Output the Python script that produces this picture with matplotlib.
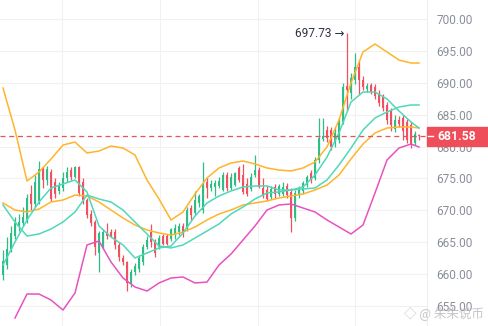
import matplotlib
matplotlib.use("Agg")
import matplotlib.pyplot as plt
from matplotlib.patches import Rectangle
import numpy as np

# ---- candle data (OHLC) ----
opens = [659.8, 661.5, 664.0, 666.0, 667.5, 668.0, 668.5, 672.5, 671.0, 671.5,
         676.6, 674.8, 676.0, 674.5, 673.0, 673.5, 675.0, 676.3, 675.2, 676.8,
         674.5, 671.6, 669.5, 668.2, 663.3, 664.3, 666.6, 666.6, 666.6, 664.6,
         662.5, 661.9, 658.6, 660.3, 660.8, 661.9, 664.3, 666.6, 665.1, 664.3,
         665.9, 665.9, 665.5, 666.1, 666.6, 667.6, 667.2, 670.3, 669.6, 671.1,
         670.0, 674.5, 673.5, 673.6, 673.8, 673.2, 675.5, 673.5, 674.0, 676.6,
         675.5, 674.1, 673.3, 675.5, 676.3, 673.5, 673.2, 672.1, 673.6, 672.6,
         672.6, 673.8, 672.9, 668.8, 672.5, 673.0, 674.0, 675.8, 675.0, 677.9,
         681.2, 682.6, 682.6, 680.5, 681.0, 683.9, 689.5, 688.4, 690.4, 692.5,
         690.4, 689.0, 689.6, 689.3, 688.3, 687.7, 686.5, 685.7, 682.8, 684.2,
         684.5, 683.8, 683.4, 680.6, 681.8]
highs = [663.8, 665.8, 667.5, 669.0, 669.5, 670.5, 672.5, 674.0, 675.5, 677.7,
         676.8, 676.9, 676.5, 675.0, 674.5, 676.0, 676.8, 676.8, 677.0, 677.0,
         675.0, 672.0, 670.0, 668.5, 666.8, 667.0, 668.0, 667.0, 667.0, 665.0,
         663.0, 662.0, 660.8, 661.8, 663.0, 664.8, 666.0, 667.8, 665.5, 666.2,
         666.3, 666.3, 667.3, 667.8, 668.0, 668.0, 670.5, 670.8, 673.0, 672.6,
         677.6, 675.0, 674.8, 674.8, 675.2, 676.0, 676.0, 675.8, 676.0, 677.0,
         677.2, 675.0, 675.8, 678.7, 676.8, 675.0, 673.8, 673.8, 674.2, 674.2,
         674.5, 674.3, 673.5, 673.2, 673.8, 674.6, 675.6, 676.3, 678.3, 684.5,
         684.5, 683.2, 683.0, 683.0, 684.5, 690.0, 697.73, 691.5, 694.7, 693.6,
         691.0, 690.0, 690.0, 689.8, 688.8, 688.2, 687.0, 686.0, 685.0, 684.8,
         685.0, 684.3, 683.8, 682.5, 682.0]
lows = [659.0, 660.8, 663.5, 665.5, 666.8, 667.5, 668.0, 670.0, 670.5, 671.0,
        673.5, 674.0, 671.5, 672.0, 672.5, 673.0, 674.5, 674.8, 675.0, 672.3,
        671.0, 668.8, 667.5, 663.0, 660.3, 664.0, 665.5, 665.8, 664.0, 662.0,
        661.5, 657.3, 658.0, 659.8, 660.3, 661.5, 664.0, 664.2, 662.7, 664.0,
        664.5, 664.5, 665.2, 665.5, 666.2, 665.8, 666.8, 668.5, 669.2, 670.6,
        669.6, 672.0, 673.0, 672.3, 673.5, 673.0, 673.0, 673.2, 673.8, 674.5,
        672.5, 672.2, 673.0, 675.3, 673.5, 672.0, 671.5, 671.8, 672.0, 672.2,
        672.2, 672.0, 666.6, 668.3, 672.0, 672.6, 673.7, 674.3, 674.8, 677.5,
        680.8, 680.7, 679.5, 680.0, 680.5, 683.5, 685.5, 687.5, 689.8, 688.3,
        688.8, 688.5, 688.2, 687.5, 686.3, 685.5, 683.6, 682.5, 682.3, 683.0,
        681.0, 680.5, 679.8, 680.2, 681.0]
closes = [662.0, 664.0, 666.5, 668.0, 668.2, 669.0, 672.0, 671.0, 674.5, 676.5,
          674.8, 676.5, 671.8, 672.5, 673.8, 675.0, 676.0, 675.2, 676.8, 672.7,
          671.6, 669.3, 668.0, 664.3, 666.4, 666.6, 666.0, 666.0, 664.6, 662.7,
          661.9, 658.6, 660.3, 661.2, 662.5, 664.3, 665.4, 665.1, 663.3, 665.7,
          664.8, 664.8, 667.0, 667.2, 667.6, 666.3, 670.0, 669.2, 671.6, 672.2,
          674.3, 673.5, 674.2, 674.3, 674.6, 675.5, 673.5, 675.3, 675.8, 674.8,
          672.8, 672.6, 675.3, 676.3, 673.7, 672.4, 671.8, 673.4, 672.5, 673.8,
          673.6, 672.4, 668.8, 672.7, 673.3, 674.3, 675.2, 674.8, 677.9, 681.3,
          681.7, 681.3, 679.9, 682.2, 683.9, 689.3, 688.8, 690.7, 692.5, 690.4,
          689.3, 689.5, 688.6, 688.0, 686.8, 686.0, 684.2, 683.4, 684.2, 683.6,
          682.5, 681.0, 680.2, 682.0, 681.58]

# ---- indicator lines (sampled at candle indices) ----
line_idx = [0, 3, 6, 9, 12, 15, 18, 21, 24, 27, 30, 33, 36, 39, 42, 45, 48, 51,
            54, 57, 60, 63, 66, 69, 72, 75, 78, 81, 84, 87, 90, 93, 96, 99, 102, 104]
boll_upper = [689.18, 682.60, 674.60, 676.01, 678.05, 680.24, 680.71, 678.99, 679.30,
              680.09, 679.77, 678.68, 674.76, 671.78, 668.49, 669.74, 672.56, 675.07,
              676.64, 677.42, 677.74, 677.27, 676.64, 676.32, 676.17, 676.64, 677.58,
              679.93, 684.16, 689.97, 694.83, 696.08, 694.83, 693.57, 693.10, 693.10]
ma_orange = [671.15, 670.05, 669.74, 670.21, 671.31, 671.62, 672.40, 672.25, 671.31,
             670.05, 668.80, 667.70, 666.92, 666.45, 666.13, 666.60, 667.39, 668.49,
             669.43, 670.05, 670.84, 671.15, 671.47, 671.94, 672.25, 672.56, 673.19,
             673.97, 675.54, 678.05, 680.40, 682.13, 682.91, 683.07, 683.07, 682.91]
ma_teal_slow = [670.84, 668.17, 665.98, 666.29, 667.07, 668.17, 669.74, 672.40, 671.78,
                671.31, 670.05, 668.17, 666.29, 664.41, 664.10, 664.57, 665.66, 666.76,
                667.86, 669.43, 670.52, 671.78, 672.72, 672.88, 673.19, 673.35, 673.50,
                674.76, 677.11, 679.77, 682.60, 684.48, 685.42, 686.20, 686.52, 686.52]
ma_teal_fast = [661.43, 665.03, 668.49, 671.31, 673.50, 674.13, 674.76, 672.88, 667.55,
                665.82, 664.57, 662.53, 663.31, 664.10, 664.41, 666.45, 669.11, 671.15,
                672.25, 673.03, 673.66, 673.82, 673.82, 673.19, 673.19, 673.66, 675.54,
                678.36, 682.13, 686.99, 688.55, 688.55, 687.46, 685.58, 683.85, 682.91]
lower_idx = line_idx[1:]
boll_lower = [653.12, 656.88, 656.88, 655.94, 654.37, 657.04, 664.57, 665.19, 661.90,
              659.39, 657.98, 657.35, 658.61, 659.39, 659.55, 658.61, 658.76, 661.43,
              663.15, 665.35, 667.55, 670.05, 670.84, 671.00, 670.37, 669.74, 668.49,
              667.39, 666.29, 667.70, 672.72, 677.89, 679.77, 680.40, 679.93]

last_price = 681.58
high_price = 697.73
high_idx = 86
y_ticks = [655, 660, 665, 670, 675, 680, 685, 690, 695, 700]
v_grid = [14.75, 39.25, 63.75, 88.0]

UP = "#2ebd85"
DOWN = "#f0505f"
FONT = ["Roboto", "DejaVu Sans"]

W, H = 488, 326
fig = plt.figure(figsize=(W / 100, H / 100), dpi=100)
ax = fig.add_axes([0, 0, 427 / W, 1])
ax.set_xlim(-0.75, 106)
ax.set_ylim(700 - 307 / 6.378, 700 + 19 / 6.378)

# grid
ax.set_yticks(y_ticks)
ax.set_yticklabels([f"{v:.2f}" for v in y_ticks])
ax.set_xticks(v_grid)
ax.grid(True, color="#f1f1f1", lw=0.8, zorder=0)
ax.yaxis.tick_right()
ax.tick_params(axis="y", length=0, pad=7, labelsize=8.6, labelcolor="#8a9099")
ax.tick_params(axis="x", length=0, labelbottom=False)
for s in ["top", "left", "bottom"]:
    ax.spines[s].set_visible(False)
ax.spines["right"].set_color("#eeeeee")
ax.spines["right"].set_linewidth(0.8)
for lab in ax.get_yticklabels():
    lab.set_fontfamily(FONT)

# candles
idx = np.arange(len(closes))
o = np.array(opens); c = np.array(closes); h = np.array(highs); l = np.array(lows)
cols = [UP if cc >= oo else DOWN for oo, cc in zip(o, c)]
ax.vlines(idx, l, h, colors=cols, lw=0.9, zorder=2)
bottoms = np.minimum(o, c)
heights = np.maximum(np.abs(c - o), 0.15)
ax.bar(idx, heights, bottom=bottoms, width=0.74, color=cols, lw=0, zorder=3)

# lines
ax.plot(line_idx, boll_upper, color="#ffb42a", lw=1.1, zorder=4)
ax.plot(line_idx, ma_orange, color="#ffb42a", lw=1.1, zorder=4)
ax.plot(line_idx, ma_teal_slow, color="#4fd8b9", lw=1.1, zorder=4)
ax.plot(line_idx, ma_teal_fast, color="#4fd8b9", lw=1.1, zorder=4)
ax.plot(lower_idx, boll_lower, color="#e852c0", lw=1.1, zorder=4)

# last price dashed line
ax.axhline(last_price, color="#e5535d", lw=0.9, ls=(0, (4, 3)), zorder=5)

# high annotation
ax.text(high_idx - 0.6, high_price, f"{high_price:.2f} \u2192", ha="right", va="center",
        fontsize=8.6, color="#2b3440", family=FONT, zorder=6)

# price label box
ymin, ymax = ax.get_ylim()
yfrac = (last_price - ymin) / (ymax - ymin)
bh = 19 / H
fig.patches.append(Rectangle((427 / W, yfrac - bh / 2), 61 / W, bh,
                             transform=fig.transFigure, color="#ef4d5a", zorder=10))
fig.lines.append(plt.Line2D([428 / W, 433 / W], [yfrac, yfrac], transform=fig.transFigure,
                            color="white", lw=1.0, zorder=11))
fig.text(437 / W, yfrac, f"{last_price:.2f}", color="white", fontsize=8.8,
         fontweight="bold", va="center", ha="left", family=FONT, zorder=12)

# watermark
fig.text(404 / W, 1 - 313 / H, "\u25c7 @ 朱朱说币", fontsize=9, color="#b8b8b8", alpha=0.8,
         va="center", ha="left", family=["Noto Sans CJK SC", "DejaVu Sans"], zorder=13)

fig.savefig("out.png", dpi=100)
